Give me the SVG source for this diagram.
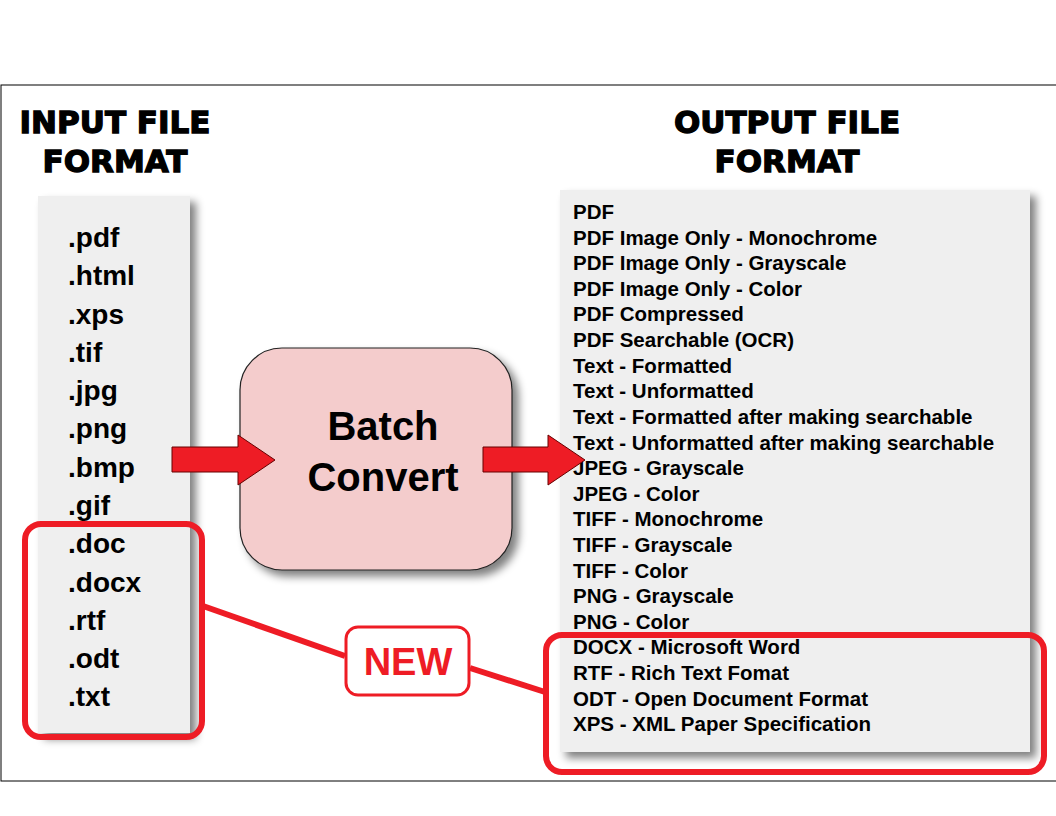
<svg xmlns="http://www.w3.org/2000/svg" width="1056" height="816" viewBox="0 0 1056 816">
<defs>
<filter id="sh" x="-10%" y="-10%" width="130%" height="130%"><feGaussianBlur in="SourceAlpha" stdDeviation="4"/><feOffset dx="6" dy="6"/><feComponentTransfer><feFuncA type="linear" slope="0.5"/></feComponentTransfer><feMerge><feMergeNode/><feMergeNode in="SourceGraphic"/></feMerge></filter>
</defs>
<style>
.hd{font-family:"DejaVu Sans",sans-serif;font-weight:900;font-size:31px;fill:#000;stroke:#000;stroke-width:1.3;text-anchor:middle}
.in{font-family:"Liberation Sans",Arial,sans-serif;font-weight:bold;font-size:28px;fill:#000}
.out{font-family:"Liberation Sans",Arial,sans-serif;font-weight:bold;font-size:20.5px;fill:#000}
.red{fill:none;stroke:#ee1c25;stroke-width:6}
</style>
<rect x="1" y="85" width="1060" height="696" fill="#fff" stroke="#000" stroke-width="1"/>
<text class="hd" x="115" y="133">INPUT FILE</text>
<text class="hd" x="115" y="172">FORMAT</text>
<text class="hd" x="787" y="133">OUTPUT FILE</text>
<text class="hd" x="787" y="172">FORMAT</text>
<g id="input">
<rect x="38" y="196" width="152" height="537" fill="#efefef" filter="url(#sh)"/>
<text class="in" x="68" y="247">.pdf</text>
<text class="in" x="68" y="285">.html</text>
<text class="in" x="68" y="324">.xps</text>
<text class="in" x="68" y="362">.tif</text>
<text class="in" x="68" y="400">.jpg</text>
<text class="in" x="68" y="438">.png</text>
<text class="in" x="68" y="477">.bmp</text>
<text class="in" x="68" y="515">.gif</text>
<text class="in" x="68" y="553">.doc</text>
<text class="in" x="68" y="592">.docx</text>
<text class="in" x="68" y="630">.rtf</text>
<text class="in" x="68" y="668">.odt</text>
<text class="in" x="68" y="706">.txt</text>
</g>
<g id="batch">
<rect x="240" y="348" width="272" height="222" rx="42" fill="#f4cccc" stroke="#222" stroke-width="1.2" filter="url(#sh)"/>
<text x="383" y="440" text-anchor="middle" font-family="Liberation Sans,Arial,sans-serif" font-weight="bold" font-size="40">Batch</text>
<text x="383" y="491" text-anchor="middle" font-family="Liberation Sans,Arial,sans-serif" font-weight="bold" font-size="40">Convert</text>
</g>
<g id="output">
<rect x="560" y="190" width="470" height="562" fill="#efefef" filter="url(#sh)"/>
<g class="out">
<text x="573" y="219">PDF</text>
<text x="573" y="245">PDF Image Only - Monochrome</text>
<text x="573" y="270">PDF Image Only - Grayscale</text>
<text x="573" y="296">PDF Image Only - Color</text>
<text x="573" y="321">PDF Compressed</text>
<text x="573" y="347">PDF Searchable (OCR)</text>
<text x="573" y="373">Text - Formatted</text>
<text x="573" y="398">Text - Unformatted</text>
<text x="573" y="424">Text - Formatted after making searchable</text>
<text x="573" y="450">Text - Unformatted after making searchable</text>
<text x="573" y="475">JPEG - Grayscale</text>
<text x="573" y="501">JPEG - Color</text>
<text x="573" y="526">TIFF - Monochrome</text>
<text x="573" y="552">TIFF - Grayscale</text>
<text x="573" y="578">TIFF - Color</text>
<text x="573" y="603">PNG - Grayscale</text>
<text x="573" y="629">PNG - Color</text>
<text x="573" y="654">DOCX - Microsoft Word</text>
<text x="573" y="680">RTF - Rich Text Fomat</text>
<text x="573" y="706">ODT - Open Document Format</text>
<text x="573" y="731">XPS - XML Paper Specification</text>
</g>
</g>
<g id="connectors">
<polygon points="172,447 238,447 238,435 275,460 238,485 238,472 172,472" fill="#ee1c25" stroke="#600" stroke-width="1"/>
<polygon points="483,447 548,447 548,435 585,460 548,485 548,472 483,472" fill="#ee1c25" stroke="#600" stroke-width="1"/>
<line x1="203" y1="606" x2="345" y2="656" stroke="#ee1c25" stroke-width="6"/>
<line x1="470" y1="668" x2="545" y2="692" stroke="#ee1c25" stroke-width="6"/>
<rect class="red" x="25" y="524" width="177" height="213" rx="16"/>
<rect class="red" x="546" y="635" width="498" height="137" rx="16"/>
</g>
<g id="new">
<rect x="346" y="627" width="123" height="68" rx="12" fill="#fff" stroke="#ee1c25" stroke-width="3"/>
<text x="408" y="675" text-anchor="middle" font-family="Liberation Sans,Arial,sans-serif" font-weight="bold" font-size="38" fill="#ee1c25">NEW</text>
</g>
</svg>
